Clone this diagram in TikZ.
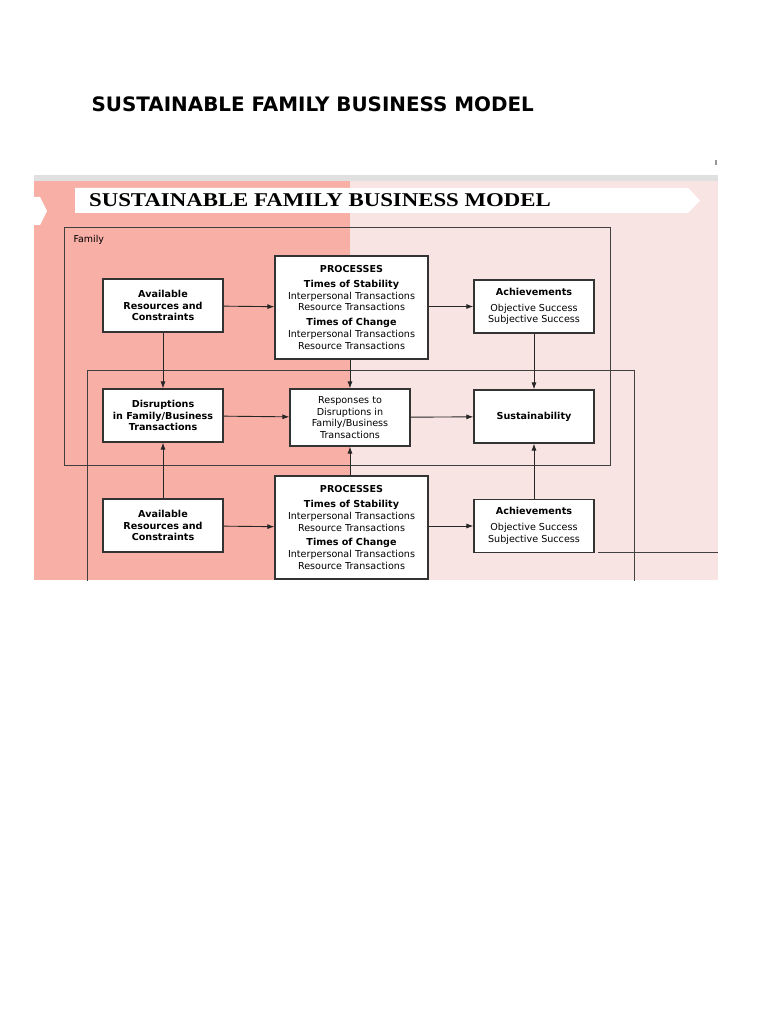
\documentclass[tikz,border=0pt]{standalone}
\usepackage{fontspec}
\setmainfont{DejaVu Sans}
\newfontfamily\serifb{Liberation Serif}
\usetikzlibrary{arrows.meta}
\definecolor{pinkA}{HTML}{F8AFA6}
\definecolor{pinkB}{HTML}{F8E4E2}
\begin{document}
\begin{tikzpicture}[x=1pt,y=-1pt,
 bx/.style={draw=black!80,fill=white,line width=1.1pt,inner sep=0pt,align=center,font=\fontsize{9.6}{11.8}\selectfont},
 ar/.style={-{Latex[length=7pt,width=5pt]},line width=0.9pt,black!85},
 fr/.style={draw=black!75,line width=1pt}]
\useasboundingbox (0,0) rectangle (768,1024);
\fill[white] (0,0) rectangle (768,1024);
\node[anchor=west,font=\bfseries\fontsize{19.9}{22}\selectfont] (ttl) at (88,104) {SUSTAINABLE FAMILY BUSINESS MODEL};
\fill[black!40] (715,160) rectangle (717,165);
\begin{scope}
\clip (34,175) rectangle (718,580);
\fill[black!12] (34,175) rectangle (718,181);
\fill[pinkA] (34,181) rectangle (350,580);
\fill[pinkB] (350,181) rectangle (718,580);
\fill[white] (75,188) -- (688,188) -- (700,200.5) -- (688,213) -- (75,213) -- cycle;
\fill[white] (34,197) -- (40,197) -- (47,211) -- (40,225) -- (34,225) -- cycle;
\node[anchor=west,font=\serifb\bfseries\fontsize{19.5}{20}\selectfont,xscale=1.17] (btitle) at (85,200.5) {SUSTAINABLE FAMILY BUSINESS MODEL};
\draw[fr] (64,228) rectangle (610,465);
\node[anchor=north west,font=\fontsize{9.5}{11}\selectfont] (fam) at (70,232) {Family};
\draw[fr] (87,620) -- (87,370) -- (634,370) -- (634,620);
\draw[fr] (598,552) -- (718,552);
\node[bx,minimum width=120pt,minimum height=53pt] (a1) at (163,305.5) {\textbf{Available}\\\textbf{Resources and}\\\textbf{Constraints}};
\node[bx,minimum width=153pt,minimum height=103pt] (p1) at (351.5,307.5) {\textbf{PROCESSES}\\[3pt]\textbf{Times of Stability}\\Interpersonal Transactions\\Resource Transactions\\[3pt]\textbf{Times of Change}\\Interpersonal Transactions\\Resource Transactions};
\node[bx,minimum width=120pt,minimum height=53pt] (c1) at (534,306.5) {\textbf{Achievements}\\[4pt]Objective Success\\Subjective Success};
\node[bx,minimum width=120pt,minimum height=53pt] (d) at (163,415.5) {\textbf{Disruptions}\\\textbf{in Family/Business}\\\textbf{Transactions}};
\node[bx,minimum width=120pt,minimum height=57pt] (r) at (350,417.5) {Responses to\\Disruptions in\\Family/Business\\Transactions};
\node[bx,minimum width=120pt,minimum height=53pt] (s) at (534,416.5) {\textbf{Sustainability}};
\node[bx,minimum width=120pt,minimum height=53pt] (a2) at (163,525.5) {\textbf{Available}\\\textbf{Resources and}\\\textbf{Constraints}};
\node[bx,minimum width=153pt,minimum height=103pt] (p2) at (351.5,527.5) {\textbf{PROCESSES}\\[3pt]\textbf{Times of Stability}\\Interpersonal Transactions\\Resource Transactions\\[3pt]\textbf{Times of Change}\\Interpersonal Transactions\\Resource Transactions};
\node[bx,minimum width=120pt,minimum height=53pt] (c2) at (534,526) {\textbf{Achievements}\\[4pt]Objective Success\\Subjective Success};
\draw[ar] (a1) -- (p1);
\draw[ar] (p1.east|-c1) -- (c1);
\draw[ar] (a1) -- (d);
\draw[ar] (p1.south-|r) -- (r);
\draw[ar] (c1) -- (s);
\draw[ar] (d) -- (r);
\draw[ar] (r) -- (s);
\draw[ar] (a2) -- (d);
\draw[ar] (p2.north-|r) -- (r);
\draw[ar] (c2) -- (s);
\draw[ar] (a2) -- (p2);
\draw[ar] (p2.east|-c2) -- (c2);
\end{scope}
\end{tikzpicture}
\end{document}
